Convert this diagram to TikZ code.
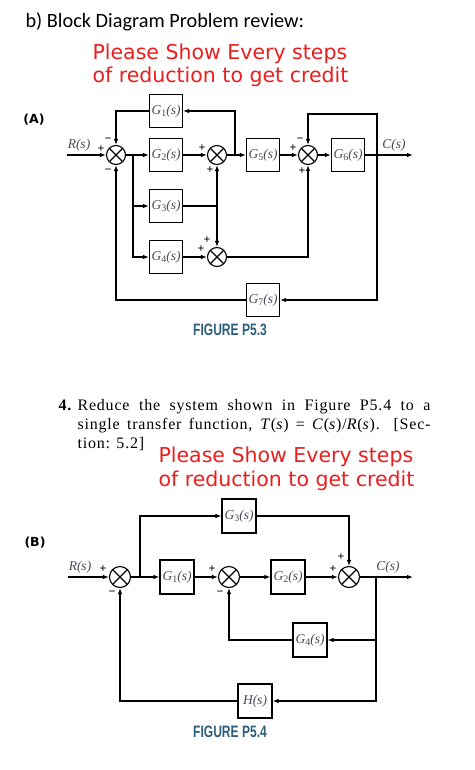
\documentclass[tikz,border=0pt]{standalone}
\usepackage{fontspec}
\setmainfont{Liberation Serif}
\newfontfamily\titlefont{Carlito}
\newfontfamily\redfont{DejaVu Sans}
\newfontfamily\figfont{Liberation Sans}
\newfontfamily\probfont[LetterSpace=5]{Liberation Serif}
\usetikzlibrary{arrows.meta}
\definecolor{figblue}{RGB}{45,95,125}
\definecolor{blkgray}{RGB}{70,74,88}
\definecolor{notered}{RGB}{235,30,30}
\newcommand{\tfn}[2]{\textit{#1}\raisebox{-.4ex}{\fontsize{10}{10}\selectfont #2}\textit{(s)}}
\newcommand{\figlbl}[1]{\scalebox{0.73}[1]{\figfont\bfseries #1}}
\begin{document}
\begin{tikzpicture}[x=1pt, y=-1pt, line width=1.1pt,
    >={Latex[length=6pt,width=4.5pt]},
    blk/.style={draw, minimum width=33pt, minimum height=33pt, inner sep=0pt,
                font=\fontsize{13.5}{14}\selectfont, text=blkgray},
    sum/.style={draw, circle, minimum size=19pt, inner sep=0pt,
                path picture={\draw (path picture bounding box.north west) -- (path picture bounding box.south east)
                                    (path picture bounding box.north east) -- (path picture bounding box.south west);}},
    sig/.style={font=\fontsize{12}{12}\selectfont\bfseries, inner sep=0pt},
    lbl/.style={font=\fontsize{13.5}{14}\selectfont\itshape, text=blkgray, inner sep=0pt}]
  \useasboundingbox (0,0) rectangle (474,770);

  % headings
  \node (ttl) [anchor=base west, inner sep=0pt] at (25,28) {\fontsize{20.3}{24}\titlefont b) Block Diagram Problem review:};
  \node (ra1) [anchor=base west, inner sep=0pt, text=notered] at (92,60) {\fontsize{20.5}{24}\redfont Please Show Every steps};
  \node (ra2) [anchor=base west, inner sep=0pt, text=notered] at (92,83) {\fontsize{20.5}{24}\redfont of reduction to get credit};
  \node (la) [inner sep=0pt] at (34,120) {\fontsize{12.5}{14}\redfont\bfseries (A)};

  % figure P5.3
  \node (sa1) [sum] at (116,155) {};
  \node (sa2) [sum] at (217,155) {};
  \node (sa3) [sum] at (308,155) {};
  \node (sa4) [sum] at (217,257) {};
  \node (ga1) [blk] at (166,111) {\tfn{G}{1}};
  \node (ga2) [blk] at (166,155) {\tfn{G}{2}};
  \node (ga3) [blk] at (166,206) {\tfn{G}{3}};
  \node (ga4) [blk] at (166,257) {\tfn{G}{4}};
  \node (ga5) [blk] at (263,155) {\tfn{G}{5}};
  \node (ga6) [blk] at (348,155) {\tfn{G}{6}};
  \node (ga7) [blk] at (263,300) {\tfn{G}{7}};
  \coordinate (ina) at (67,155);
  \coordinate (outa) at (413,155);
  \coordinate (ba1) at (133,155);
  \coordinate (ba2) at (235,155);
  \coordinate (ba3) at (377,155);
  \coordinate (ta3) at (308,114);
  \node (rsa) [lbl] at (79,145) {R(s)};
  \node (csa) [lbl] at (394,145) {C(s)};

  \draw (ina) edge[->] (sa1)
        (sa1) edge[->] (ga2)
        (ga2) edge[->] (sa2)
        (sa2) edge[->] (ga5)
        (ga5) edge[->] (sa3)
        (sa3) edge[->] (ga6)
        (ga6) edge[->] (outa)
        (ga4) edge[->] (sa4);
  \draw[->] (ba2) |- (ga1);
  \draw[->] (ga1) -| (sa1);
  \draw[->] (ba1) |- (ga3);
  \draw[->] (ba1) |- (ga4);
  \draw[->] (ga3) -| (sa2);
  \draw[->] (ga3) -| (sa4);
  \draw[->] (sa4) -| (sa3);
  \draw[->] (ba3) |- (ta3) -- (sa3);
  \draw[->] (ba3) |- (ga7);
  \draw[->] (ga7) -| (sa1);

  \node (pa1) [sig] at (101,149) {+};
  \node (ma1) [sig] at (108,140) {−};
  \node (ma2) [sig] at (108,171) {−};
  \node (pa2) [sig] at (202,148) {+};
  \node (pa3) [sig] at (210,170) {+};
  \node (pa4) [sig] at (293,148) {+};
  \node (ma3) [sig] at (300,140) {−};
  \node (pa5) [sig] at (302,171) {+};
  \node (pa6) [sig] at (207,240) {+};
  \node (pa7) [sig] at (201,249) {+};
  \node (fa) [anchor=base, inner sep=0pt, text=figblue] at (230,335) {\fontsize{16.5}{18}\figlbl{FIGURE P5.3}};

  % problem text
  \node (tx0) [anchor=base west, inner sep=0pt] at (58,410)
    {\fontsize{16}{18}\probfont\bfseries 4.};
  \node (tx1) [anchor=base west, inner sep=0pt] at (77,410)
    {\fontsize{16}{18}\probfont\makebox[353pt][s]{Reduce the system shown in Figure P5.4 to a}};
  \node (tx2) [anchor=base west, inner sep=0pt] at (77,429.5)
    {\fontsize{16}{18}\probfont\makebox[353pt][s]{single transfer function, \textit{T}(\textit{s}) = \textit{C}(\textit{s})/\textit{R}(\textit{s}). [Sec-}};
  \node (tx3) [anchor=base west, inner sep=0pt] at (77,448)
    {\fontsize{16}{18}\probfont tion: 5.2]};
  \node (rb1) [anchor=base west, inner sep=0pt, text=notered] at (158,462) {\fontsize{20.5}{24}\redfont Please Show Every steps};
  \node (rb2) [anchor=base west, inner sep=0pt, text=notered] at (158,486) {\fontsize{20.5}{24}\redfont of reduction to get credit};
  \node (lb) [inner sep=0pt] at (35,543) {\fontsize{12.5}{14}\redfont\bfseries (B)};

  % figure P5.4
  \node (sb1) [sum, minimum size=21pt] at (120,577) {};
  \node (sb2) [sum, minimum size=21pt] at (229,577) {};
  \node (sb3) [sum, minimum size=21pt] at (349,577) {};
  \node (gb1) [blk, minimum size=34pt] at (177,577) {\tfn{G}{1}};
  \node (gb2) [blk, minimum size=34pt] at (288,577) {\tfn{G}{2}};
  \node (gb3) [blk, minimum size=34pt] at (239,516) {\tfn{G}{3}};
  \node (gb4) [blk, minimum size=34pt] at (310,640) {\tfn{G}{4}};
  \node (hb) [blk, minimum size=34pt] at (255,701) {\textit{H(s)}};
  \coordinate (inb) at (68,577);
  \coordinate (outb) at (413,577);
  \coordinate (bb1) at (140,577);
  \coordinate (bb2) at (376,577);
  \node (rsb) [lbl] at (80,567) {R(s)};
  \node (csb) [lbl] at (388,567) {C(s)};

  \draw (inb) edge[->] (sb1)
        (sb1) edge[->] (gb1)
        (gb1) edge[->] (sb2)
        (sb2) edge[->] (gb2)
        (gb2) edge[->] (sb3)
        (sb3) edge[->] (outb);
  \draw[->] (bb1) |- (gb3);
  \draw[->] (gb3) -| (sb3);
  \draw[->] (bb2) |- (gb4);
  \draw[->] (gb4) -| (sb2);
  \draw[->] (bb2) |- (hb);
  \draw[->] (hb) -| (sb1);

  \node (pb1) [sig] at (103,569) {+};
  \node (mb1) [sig] at (112,593) {−};
  \node (pb2) [sig] at (212,569) {+};
  \node (mb2) [sig] at (220,593) {−};
  \node (pb3) [sig] at (341,557) {+};
  \node (pb4) [sig] at (333,569) {+};
  \node (fb) [anchor=base, inner sep=0pt, text=figblue] at (230,737) {\fontsize{16.5}{18}\figlbl{FIGURE P5.4}};
\end{tikzpicture}
\end{document}
